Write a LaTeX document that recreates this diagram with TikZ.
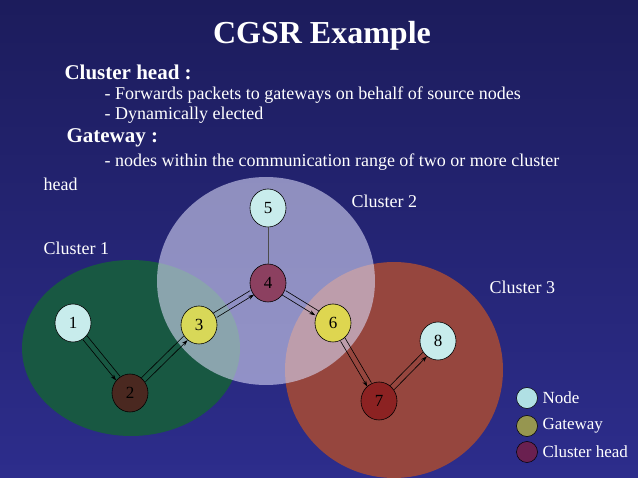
\documentclass[tikz,border=0pt]{standalone}
\usepackage{fontspec}
\setmainfont{Liberation Serif}
\usetikzlibrary{shapes.geometric,arrows.meta}
\begin{document}
\begin{tikzpicture}[x=1pt,y=-1pt,
  nd/.style={ellipse,draw=black,line width=0.6pt,minimum width=36pt,minimum height=38pt,inner sep=0pt,font=\fontsize{17}{17}\selectfont},
  lbl/.style={text=white,anchor=west,font=\fontsize{18}{20}\selectfont},
  leg/.style={circle,draw=black,line width=0.5pt,minimum size=21pt,inner sep=0pt},
  arr/.style={-{Stealth[length=6pt,width=4pt]},line width=0.6pt},
  ln/.style={line width=0.6pt}]
\shade[top color={rgb,255:red,28;green,28;blue,92}, bottom color={rgb,255:red,45;green,45;blue,140}] (0,0) rectangle (638,478);
\useasboundingbox (0,0) rectangle (638,478);
\fill[fill={rgb,255:red,24;green,88;blue,66}] (131,348) ellipse [x radius=109, y radius=88];
\fill[fill={rgb,255:red,150;green,70;blue,62}] (394,370) ellipse [x radius=109, y radius=108];
\fill[fill={rgb,255:red,215;green,215;blue,245},opacity=0.6] (266,281) ellipse [x radius=109, y radius=104];
\node[text=white,font=\bfseries\fontsize{32}{32}\selectfont] (t) at (322,36) {CGSR Example};
\node[lbl,font=\bfseries\fontsize{21}{21}\selectfont] (ch) at (61,72) {Cluster head :};
\node[lbl] (l1) at (101,95) {- Forwards packets to gateways on behalf of source nodes};
\node[lbl] (l2) at (101,115) {- Dynamically elected};
\node[lbl,font=\bfseries\fontsize{21}{21}\selectfont] (gw) at (63,138) {Gateway :};
\node[lbl] (l3) at (101,162) {- nodes within the communication range of two or more cluster};
\node[lbl] (l4) at (40,184) {head};
\node[lbl] (c1) at (40,248) {Cluster 1};
\node[lbl] (c2) at (348,201) {Cluster 2};
\node[lbl] (c3) at (486,287) {Cluster 3};
\node[nd,fill={rgb,255:red,200;green,236;blue,236}] (n1) at (73,323) {1};
\node[nd,fill={rgb,255:red,74;green,40;blue,32}] (n2) at (130,393) {2};
\node[nd,fill={rgb,255:red,216;green,216;blue,88}] (n3) at (199,325) {3};
\node[nd,fill={rgb,255:red,140;green,64;blue,96}] (n4) at (268,283) {4};
\node[nd,fill={rgb,255:red,200;green,236;blue,236}] (n5) at (268,208) {5};
\node[nd,fill={rgb,255:red,222;green,214;blue,80}] (n6) at (333,323) {6};
\node[nd,fill={rgb,255:red,140;green,34;blue,34}] (n7) at (379,401) {7};
\node[nd,fill={rgb,255:red,200;green,236;blue,236}] (n8) at (438,341) {8};
\draw[ln,black!70] (n5) -- (n4);
\foreach \a/\b in {n1/n2,n4/n6,n6/n7}{
  \draw[ln,transform canvas={shift={(2pt,2pt)}}] (\a) -- (\b);
  \draw[arr,transform canvas={shift={(-2pt,-2pt)}}] (\a) -- (\b);
}
\foreach \a/\b in {n2/n3,n3/n4,n7/n8}{
  \draw[ln,transform canvas={shift={(-2pt,2pt)}}] (\a) -- (\b);
  \draw[arr,transform canvas={shift={(2pt,-2pt)}}] (\a) -- (\b);
}
\node[leg,fill={rgb,255:red,176;green,224;blue,228}] (g1) at (527,398) {};
\node[leg,fill={rgb,255:red,150;green,150;blue,80}] (g2) at (527,426) {};
\node[leg,fill={rgb,255:red,106;green,32;blue,80}] (g3) at (527,452) {};
\node[lbl,font=\fontsize{17}{17}\selectfont] at (539,398) {Node};
\node[lbl,font=\fontsize{17}{17}\selectfont] at (539,426) {Gateway};
\node[lbl,font=\fontsize{17}{17}\selectfont] at (539,452) {Cluster head};
\end{tikzpicture}
\end{document}
